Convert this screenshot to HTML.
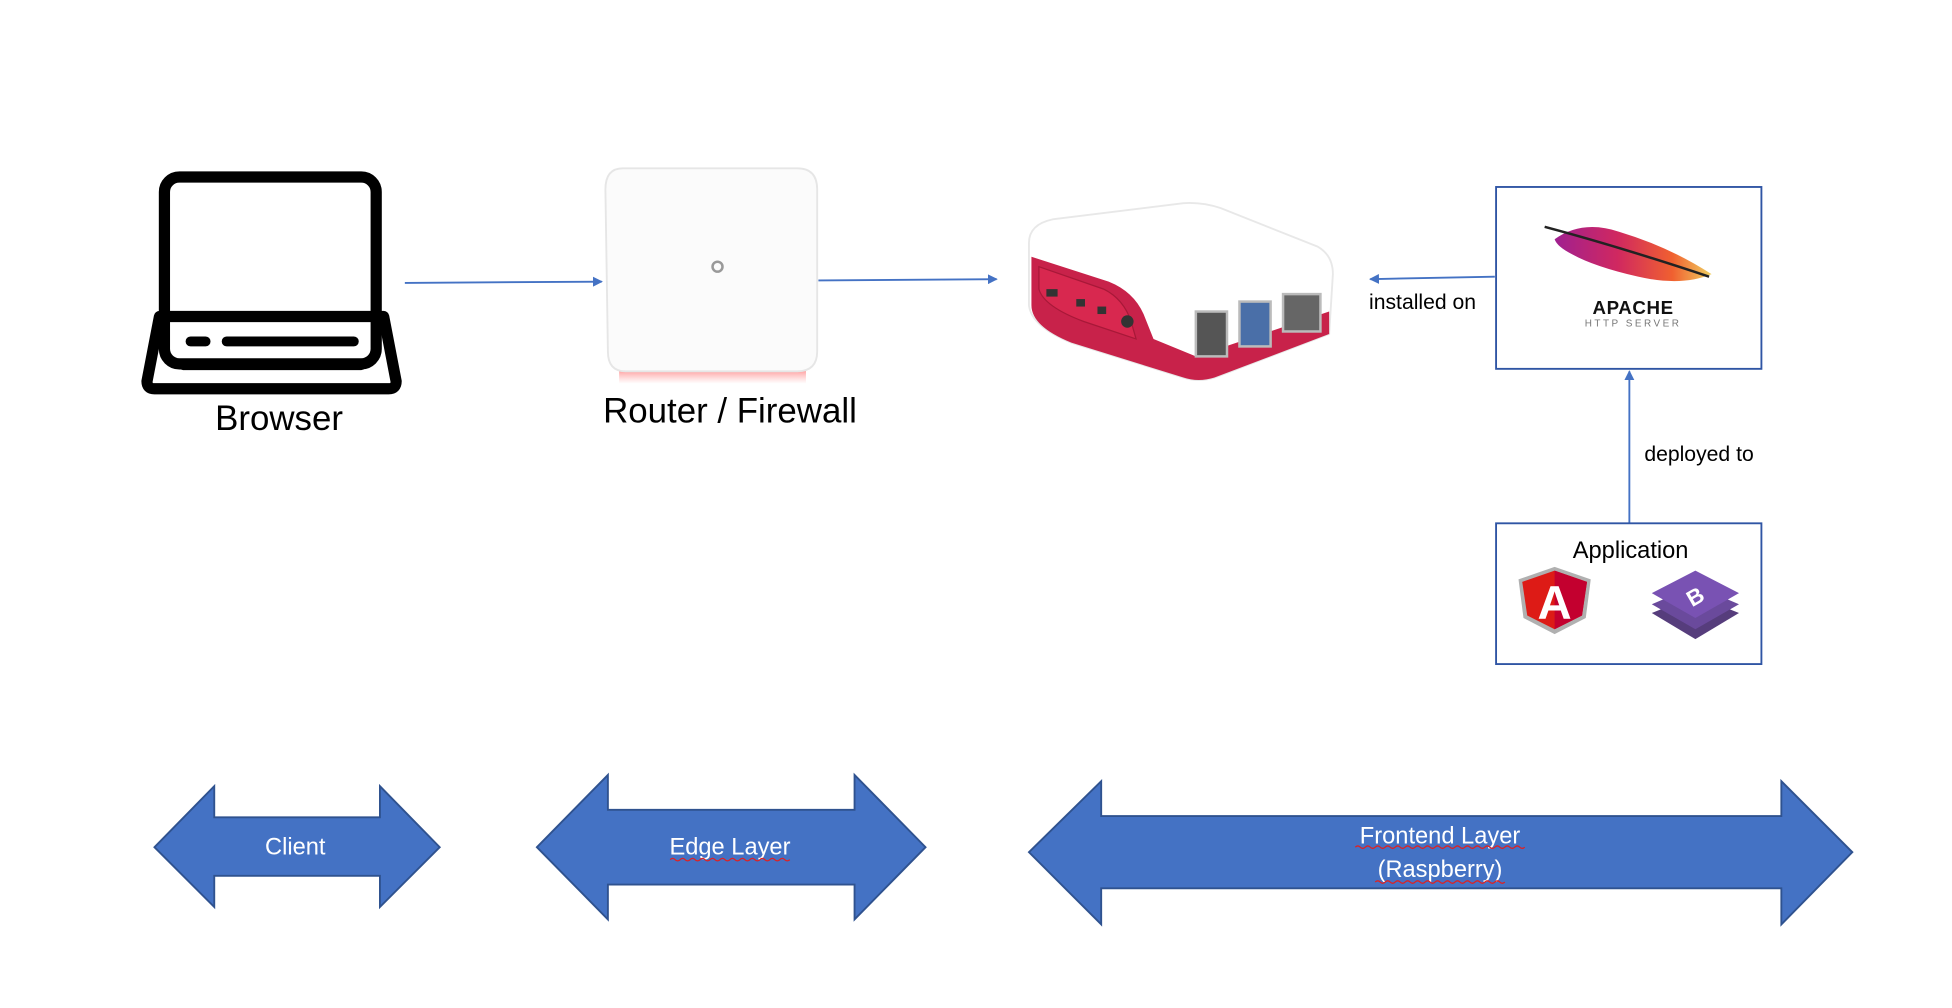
<!DOCTYPE html>
<html><head><meta charset="utf-8">
<style>
html,body{margin:0;padding:0;background:#fff;width:1952px;height:1008px;overflow:hidden}
text{font-family:"Liberation Sans",sans-serif}
</style></head>
<body>
<svg width="1952" height="1008" viewBox="0 0 1567 809" xmlns="http://www.w3.org/2000/svg">
<defs>
<marker id="ah" markerWidth="8" markerHeight="8" refX="7" refY="4" orient="auto" markerUnits="userSpaceOnUse">
<path d="M0,0 L8,4 L0,8 Z" fill="#4472c4"/></marker>
<linearGradient id="rg" x1="0" y1="0" x2="0" y2="1"><stop offset="0" stop-color="#ff3030" stop-opacity=".8"/><stop offset="1" stop-color="#ff8080" stop-opacity="0"/></linearGradient>
<linearGradient id="fe" x1="0" y1="0" x2="1" y2="0"><stop offset="0" stop-color="#a02090"/><stop offset=".4" stop-color="#d02860"/><stop offset=".75" stop-color="#f06030"/><stop offset="1" stop-color="#f0d060"/></linearGradient>
</defs>
<rect width="1567" height="809" fill="#fff"/>

<!-- Laptop -->
<rect x="132" y="142" width="170" height="150" rx="12" fill="none" stroke="#000" stroke-width="9"/>
<path d="M128,254 L308,254 L318,306 Q318,312 312,312 L124,312 Q118,312 118,306 Z" fill="none" stroke="#000" stroke-width="9" stroke-linejoin="round"/>
<line x1="153" y1="274" x2="165" y2="274" stroke="#000" stroke-width="8" stroke-linecap="round"/>
<line x1="182" y1="274" x2="284" y2="274" stroke="#000" stroke-width="8" stroke-linecap="round"/>
<line x1="147" y1="293" x2="290" y2="293" stroke="#000" stroke-width="8" stroke-linecap="round"/>
<text x="224" y="345" font-size="28" text-anchor="middle" fill="#000">Browser</text>

<!-- Router -->
<rect x="497" y="292" width="150" height="16" fill="url(#rg)"/>
<path d="M500,135 L640,135 Q656,135 656,152 L656,282 Q656,298 640,298 L502,298 Q488,298 488,282 L486,152 Q486,135 500,135 Z" fill="#fbfbfb" stroke="#e6e6e6" stroke-width="1.5"/>
<circle cx="576" cy="214" r="4" fill="none" stroke="#999" stroke-width="2"/>
<text x="586" y="339" font-size="28" text-anchor="middle" fill="#000">Router / Firewall</text>

<line x1="325" y1="227" x2="483" y2="226" stroke="#4472c4" stroke-width="1.5" marker-end="url(#ah)"/>
<line x1="657" y1="225" x2="800" y2="224" stroke="#4472c4" stroke-width="1.5" marker-end="url(#ah)"/>

<!-- Raspberry Pi case -->
<path d="M826,195 Q826,180 845,176 L950,163 Q965,162 980,167 L1058,198 Q1070,205 1070,220 L1067,268 L975,303 Q962,307 950,303 L860,275 Q828,262 826,245 Z" fill="#fff" stroke="#e8e8e8" stroke-width="1.5"/>
<path d="M828,206 L890,226 Q910,234 918,252 L926,272 L960,286 L1067,250 L1067,268 L975,303 Q962,307 950,303 L860,275 Q828,262 828,245 Z" fill="#c8224a"/>
<path d="M834,214 L886,232 Q902,240 908,258 L912,272 L870,258 Q838,246 834,232 Z" fill="#d8284f" stroke="#a81838" stroke-width="1"/>
<rect x="960" y="250" width="25" height="36" fill="#555" stroke="#bbb" stroke-width="2"/>
<rect x="995" y="242" width="25" height="36" fill="#4a6fa8" stroke="#bbb" stroke-width="2"/>
<rect x="1030" y="236" width="30" height="30" fill="#666" stroke="#bbb" stroke-width="2"/>
<rect x="840" y="232" width="9" height="6" fill="#333"/>
<rect x="864" y="240" width="7" height="6" fill="#333"/>
<rect x="881" y="246" width="7" height="6" fill="#333"/>
<circle cx="905" cy="258" r="5" fill="#333"/>

<!-- Apache box -->
<line x1="1200" y1="222" x2="1100" y2="224" stroke="#4472c4" stroke-width="1.5" marker-end="url(#ah)"/>
<text x="1099" y="248" font-size="17" fill="#000">installed on</text>
<rect x="1201" y="150" width="213" height="146" fill="#fff" stroke="#2f55a4" stroke-width="1.5"/>
<path d="M1248,192 Q1270,176 1300,186 Q1340,198 1374,220 Q1350,230 1315,222 Q1280,214 1262,204 Q1250,198 1248,192 Z" fill="url(#fe)"/>
<path d="M1240,182 Q1300,198 1372,222" fill="none" stroke="#222" stroke-width="2"/>
<text x="1311" y="252" font-size="15" text-anchor="middle" fill="#111" font-weight="bold" letter-spacing="0.5">APACHE</text>
<text x="1311" y="262" font-size="8" text-anchor="middle" fill="#777" letter-spacing="2">HTTP SERVER</text>

<!-- Application -->
<line x1="1308" y1="420" x2="1308" y2="298" stroke="#4472c4" stroke-width="1.5" marker-end="url(#ah)"/>
<text x="1320" y="370" font-size="17" fill="#000">deployed to</text>
<rect x="1201" y="420" width="213" height="113" fill="#fff" stroke="#2f55a4" stroke-width="1.5"/>
<text x="1309" y="448" font-size="19" text-anchor="middle" fill="#000">Application</text>
<path d="M1248,455 L1277,465 L1273,496 L1248,509 L1223,496 L1219,465 Z" fill="#b0b0b0"/>
<path d="M1248,458 L1274,467 L1270,494 L1248,505 L1226,494 L1222,467 Z" fill="#dd1b16"/>
<path d="M1248,458 L1274,467 L1270,494 L1248,505 Z" fill="#c3002f"/>
<text x="1248" y="497" font-size="38" text-anchor="middle" fill="#fff" font-weight="bold">A</text>
<path d="M1361,478 L1396,492 L1361,513 L1326,492 Z" fill="#563d7c"/>
<path d="M1361,470 L1396,485 L1361,505 L1326,485 Z" fill="#6a4a9c"/>
<path d="M1361,458 L1396,476 L1361,496 L1326,476 Z" fill="#7952b3"/>
<text x="1361" y="485" font-size="18" text-anchor="middle" fill="#fff" font-weight="bold" transform="rotate(-30 1361 479)">B</text>

<!-- Bottom arrows -->
<path d="M124,680 L172,631 L172,656 L305,656 L305,631 L353,680 L305,728 L305,703 L172,703 L172,728 Z" fill="#4472c4" stroke="#2f528f" stroke-width="1.5"/>
<text x="237" y="686" font-size="19" text-anchor="middle" fill="#fff">Client</text>
<path d="M431,680 L488,622 L488,650 L686,650 L686,622 L743,680 L686,738 L686,710 L488,710 L488,738 Z" fill="#4472c4" stroke="#2f528f" stroke-width="1.5"/>
<text x="586" y="686" font-size="19" text-anchor="middle" fill="#fff">Edge Layer</text>
<path d="M538,690 q2,-2 4,0 t4,0 t4,0 t4,0 t4,0 t4,0 t4,0 t4,0 t4,0 t4,0 t4,0 t4,0 t4,0 t4,0 t4,0 t4,0 t4,0 t4,0 t4,0 t4,0 t4,0 t4,0 t4,0 t4,0" fill="none" stroke="#e02020" stroke-width="1"/>
<path d="M826,684 L884,627 L884,655 L1430,655 L1430,627 L1487,684 L1430,742 L1430,713 L884,713 L884,742 Z" fill="#4472c4" stroke="#2f528f" stroke-width="1.5"/>
<text x="1156" y="677" font-size="19" text-anchor="middle" fill="#fff">Frontend Layer</text>
<text x="1156" y="704" font-size="19" text-anchor="middle" fill="#fff">(Raspberry)</text>
<path d="M1088,680 q2,-2 4,0 t4,0 t4,0 t4,0 t4,0 t4,0 t4,0 t4,0 t4,0 t4,0 t4,0 t4,0 t4,0 t4,0 t4,0 t4,0 t4,0 t4,0 t4,0 t4,0 t4,0 t4,0 t4,0 t4,0 t4,0 t4,0 t4,0 t4,0 t4,0 t4,0 t4,0 t4,0 t4,0 t4,0" fill="none" stroke="#e02020" stroke-width="1"/>
<path d="M1104,708 q2,-2 4,0 t4,0 t4,0 t4,0 t4,0 t4,0 t4,0 t4,0 t4,0 t4,0 t4,0 t4,0 t4,0 t4,0 t4,0 t4,0 t4,0 t4,0 t4,0 t4,0 t4,0 t4,0 t4,0 t4,0 t4,0 t4,0" fill="none" stroke="#e02020" stroke-width="1"/>
</svg>
</body></html>
